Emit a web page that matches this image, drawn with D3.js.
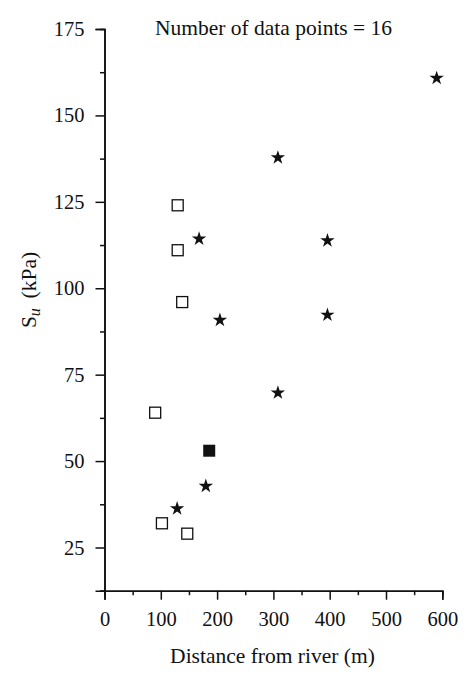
<!DOCTYPE html>
<html>
<head>
<script src="https://d3js.org/d3.v7.min.js"></script>
<style>
  body { margin: 0; background: #fff; }
  svg text { font-family: "Liberation Serif", "DejaVu Serif", serif; fill: #111; }
</style>
</head>
<body>
<div id="chart"></div>
<script>
// open squares
const openX = [130, 130, 138, 90, 102, 147];
const openY = [124, 111, 96, 64, 32, 29];
// filled square
const filledX = [186];
const filledY = [53];
// stars
const starX = [168, 205, 590, 308, 396, 396, 308, 180, 129];
const starY = [114.5, 91, 161, 138, 114, 92.5, 70, 43, 36.5];

const xTicks = [0, 100, 200, 300, 400, 500, 600];
const yTicks = [25, 50, 75, 100, 125, 150, 175];

const W = 474, H = 687;
const m = { left: 104.5, top: 29, right: 31.7, bottom: 96.3 };
const iw = W - m.left - m.right, ih = H - m.top - m.bottom;

const svg = d3.select("#chart").append("svg")
  .attr("width", W).attr("height", H);
const g = svg.append("g").attr("transform", `translate(${m.left},${m.top})`);

const x = d3.scaleLinear().domain([0, 600]).range([0, iw]);
const y = d3.scaleLinear().domain([12.5, 175]).range([ih, 0]);

// minor ticks
g.append("g").attr("class", "axis")
  .attr("transform", `translate(0,${ih})`)
  .call(d3.axisBottom(x).tickValues(d3.range(50, 600, 100)).tickSize(4.5).tickFormat(""));
g.append("g").attr("class", "axis")
  .call(d3.axisLeft(y).tickValues([12.5].concat(d3.range(37.5, 175, 25))).tickSize(4.5).tickFormat(""));

// major axes
g.append("g").attr("class", "axis")
  .attr("transform", `translate(0,${ih})`)
  .call(d3.axisBottom(x).tickValues(xTicks).tickSize(9).tickPadding(12));
g.append("g").attr("class", "axis")
  .call(d3.axisLeft(y).tickValues(yTicks).tickSize(9).tickPadding(11));

g.selectAll(".axis path, .axis line").attr("stroke", "#111").attr("stroke-width", 1.5);
g.selectAll(".axis .domain").attr("stroke-width", 1.6);
g.selectAll(".axis text").attr("font-family", "Liberation Serif").attr("font-size", 20.5).attr("fill", "#111");

// points
const sq = 11;
g.selectAll(".open").data(openX).enter().append("rect")
  .attr("x", (d, i) => x(d) - sq / 2)
  .attr("y", (d, i) => y(openY[i]) - sq / 2)
  .attr("width", sq).attr("height", sq)
  .attr("fill", "#fff").attr("stroke", "#111").attr("stroke-width", 1.3);

g.selectAll(".filled").data(filledX).enter().append("rect")
  .attr("x", (d, i) => x(d) - 6)
  .attr("y", (d, i) => y(filledY[i]) - 6)
  .attr("width", 12).attr("height", 12)
  .attr("fill", "#111");

const star = d3.symbol().type(d3.symbolStar).size(64);
g.selectAll(".star").data(starX).enter().append("path")
  .attr("d", star)
  .attr("transform", (d, i) => `translate(${x(d)},${y(starY[i]) + 0.8})`)
  .attr("fill", "#111");

// texts
svg.append("text")
  .attr("x", 273.5).attr("y", 35)
  .attr("text-anchor", "middle").attr("font-size", 21.5)
  .text("Number of data points = 16");

svg.append("text")
  .attr("x", 272.5).attr("y", 663)
  .attr("text-anchor", "middle").attr("font-size", 21.5)
  .text("Distance from river (m)");

const yl = svg.append("text")
  .attr("transform", "translate(36,290) rotate(-90)")
  .attr("text-anchor", "middle").attr("font-size", 21.5);
yl.append("tspan").text("S");
yl.append("tspan").attr("font-style", "italic").attr("font-size", 16).attr("dy", 4).text("u");
yl.append("tspan").attr("dy", -4).text("\u2009 (kPa)");
</script>
</body>
</html>
